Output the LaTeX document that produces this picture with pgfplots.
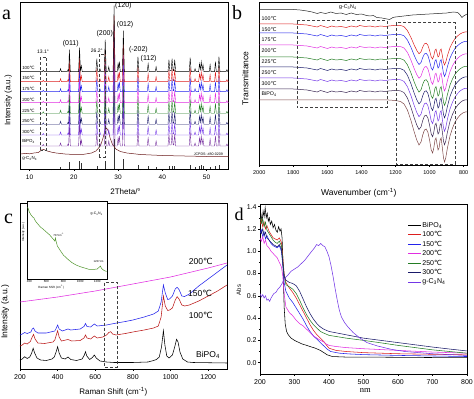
\documentclass[border=0pt]{standalone}
\usepackage{fontspec}
\setmainfont{Liberation Sans}
\newfontfamily\serifff{Liberation Serif}
\newfontfamily\dv{DejaVu Sans}
\usepackage{pgfplots}
\usepackage{pgfplotstable}
\pgfplotsset{compat=1.18}
\newcommand{\dC}{{\dv ℃}}
\newcommand{\gcn}{g-C\textsubscript{3}N\textsubscript{4}}
\newcommand{\bpo}{BiPO\textsubscript{4}}
\definecolor{cRed}{RGB}{220,30,30}
\definecolor{cBlue}{RGB}{35,35,235}
\definecolor{cMag}{RGB}{225,45,225}
\definecolor{cGreen}{RGB}{35,125,35}
\definecolor{cNavy}{RGB}{25,25,105}
\definecolor{cViolet}{RGB}{115,55,230}
\definecolor{cPurple}{RGB}{120,50,160}
\definecolor{cDark}{RGB}{55,35,80}
\definecolor{cBrown}{RGB}{125,70,70}
\definecolor{cMaroon}{RGB}{105,25,25}
\definecolor{cInset}{RGB}{80,150,45}

\pgfplotsset{
  every axis/.append style={
    scale only axis, axis line style={black, line width=0.5pt},
    tick style={black, line width=0.4pt},
    major tick length=2pt, minor tick length=1.2pt,
    tick align=outside, xtick pos=left, ytick pos=left,
    /pgf/number format/assume math mode=true,
    /pgf/number format/1000 sep={},
  },
}

% XRD template: relative peak heights (px)
\pgfplotstableread{
x h
8 0
12.9 0
13.1 1.5
13.3 0
16.8 0
17.0 3
17.2 0
18.5 0
18.7 2
18.85 0.5
19.0 22
19.22 0
21.08 0
21.3 24
21.5 1
21.7 6
21.9 0
24.98 0
25.2 13
25.42 0
25.7 0
25.9 3
26.1 0
26.88 0
27.1 32
27.32 0
27.7 0
27.9 5
28.1 0
28.88 0
29.1 66
29.32 0
29.8 0
30.0 8
30.15 3
30.3 10
30.5 0
30.98 0
31.2 41
31.42 0
34.28 0
34.5 15
34.72 0
36.58 0
36.8 8
37.02 0
38.4 0
38.6 5
38.8 0
41.28 0
41.5 12
41.7 1
42.0 1
42.2 13
42.45 1
42.6 1
42.8 12
43.02 0
46.08 0
46.3 14
46.52 0
47.2 0
47.4 3
47.6 0
48.2 0
48.4 8
48.6 2
48.8 10
49.0 2
49.2 7
49.4 0
50.6 0
50.8 7
51.0 0
51.8 0
52.0 10
52.2 0
52.6 0
52.8 15
53.02 0
54.4 0
54.6 2
54.8 0
55 0
}\xrd

% FTIR template: d = main BiPO4 band depth, w = g-C3N4 wiggles
\pgfplotstableread{
x d w
2000 0 0
1800 0 0
1760 0 0.5
1720 0 1
1690 0 2
1660 0 3
1640 0 1.5
1620 0 2.5
1600 0 3.5
1575 0 2
1550 0 3
1520 0 2.5
1490 0 3.5
1460 0 2
1430 0 3
1410 0 1.5
1380 0 2.5
1350 0 2
1320 0 3
1290 0 2
1260 0 2.5
1240 0 2
1200 0.5 1
1170 1.5 0.5
1150 4 0
1130 10 0
1110 20 0
1090 32 0
1075 40 0
1062 45 0
1050 42 0
1040 35 0
1030 30 0
1020 29 0
1010 32 0
1000 40 0
990 50 0
982 53 0
975 48 0
968 40 0
962 38 0
956 44 0
950 50 0
944 48 0
938 40 0
932 38 0
926 46 0
918 58 0
912 62 0
905 58 0
895 48 0
880 36 0
865 28 0
850 22 0
835 18 0
820 15 0
805 13 0
790 12 0
780 12 0
}\ftir

\begin{document}
\begin{tikzpicture}
\path[use as bounding box] (0pt,0pt) rectangle (474pt,399pt);

%================ panel a ================
\begin{axis}[at={(20.7pt,230pt)}, anchor=south west, width=208pt, height=167pt,
  xmin=8, xmax=55, ymin=0, ymax=167, ytick=\empty,
  xtick={10,20,...,50}, minor x tick num=1,
  tick label style={font=\fontsize{6.5}{7}\selectfont},
  xlabel={2Theta/°}, ylabel={Intensity (a.u.)},
  xlabel style={font=\fontsize{8}{9}\selectfont, at={(axis description cs:0.504,-0.138)}, anchor=center},
  ylabel style={font=\fontsize{8}{9}\selectfont, at={(axis description cs:-0.06,0.413)}, anchor=center},
  every axis plot/.append style={line width=0.4pt}]
\addplot[ycomb, black!80, line width=0.5pt, mark=none] coordinates {
 (17.0,1.5) (19.0,7.3) (21.3,8.3) (21.7,6) (25.2,3) (27.1,8.3) (29.1,30) (31.2,9.7)
 (34.5,4) (36.8,3) (38.6,2.3) (41.5,3) (42.2,3) (42.8,3) (46.3,4) (47.4,2) (48.4,3)
 (48.8,3.7) (49.2,3) (50.8,2.3) (52.0,3) (52.8,3.7)};
\addplot[cMaroon, line width=0.5pt] coordinates {
 (8,15) (9,15.6) (10,15.2) (11,16) (12,16.5) (12.7,19) (13.2,19.5) (14,18) (15,16.8)
 (16,16) (18,15) (20,14.5) (22,14.5) (24,16) (25,18) (26,23) (26.6,31) (27.0,38)
 (27.4,41) (27.8,38) (28.2,31) (28.7,25) (29.5,20) (30.5,17.5) (32,16) (35,14.5)
 (40,13.5) (45,13) (50,12.5) (55,12.3)};
\addplot[cPurple] table[x=x, y expr=\thisrow{h}+23] {\xrd};
\addplot[cViolet] table[x=x, y expr=\thisrow{h}+34] {\xrd};
\addplot[cNavy] table[x=x, y expr=\thisrow{h}+44.7] {\xrd};
\addplot[cGreen] table[x=x, y expr=\thisrow{h}+55.7] {\xrd};
\addplot[cMag] table[x=x, y expr=\thisrow{h}+66.3] {\xrd};
\addplot[cBlue] table[x=x, y expr=\thisrow{h}+77.3] {\xrd};
\addplot[cRed] table[x=x, y expr=\thisrow{h}+87.3] {\xrd};
\addplot[black] table[x=x, y expr=\thisrow{h}+97.3] {\xrd};
\draw[densely dashed, black!75, line width=0.4pt] (axis cs:12.5,19) rectangle (axis cs:13.8,112);
\draw[densely dashed, black!75, line width=0.4pt] (axis cs:25.8,12) rectangle (axis cs:27.0,115);
\begin{scope}[every node/.style={font=\fontsize{4.4}{5}\selectfont, anchor=west, inner sep=0.5pt}]
\node at (axis cs:8.2,100.7) {100\dC};
\node at (axis cs:8.2,90.7) {150\dC};
\node at (axis cs:8.2,79.7) {175\dC};
\node at (axis cs:8.2,69) {200\dC};
\node at (axis cs:8.2,58.3) {225\dC};
\node at (axis cs:8.2,48) {250\dC};
\node at (axis cs:8.2,37.3) {300\dC};
\node at (axis cs:8.2,27.3) {\bpo};
\node at (axis cs:8.2,10.7) {\gcn};
\end{scope}
\node[font=\fontsize{3.6}{4}\selectfont] at (axis cs:50.4,15) {JCPDS: \#80-0209};
\begin{scope}[every node/.style={font=\fontsize{7}{8}\selectfont, inner sep=0.5pt}]
\node at (axis cs:31.2,163.5) {(120)};
\node at (axis cs:31.6,144) {(012)};
\node at (axis cs:27.0,135.7) {(200)};
\node at (axis cs:19.3,125.7) {(011)};
\node at (axis cs:34.6,119) {(-202)};
\node at (axis cs:36.9,110.7) {(112)};
\end{scope}
\node[font=\fontsize{5}{6}\selectfont, inner sep=0.5pt] at (axis cs:13.05,117.3) {13.1°};
\node[font=\fontsize{5}{6}\selectfont, inner sep=0.5pt] at (axis cs:25.2,118) {26.2°};
\end{axis}

%================ panel b ================
\begin{axis}[at={(259.3pt,234pt)}, anchor=south west, width=207.7pt, height=163pt,
  xmin=780, xmax=2000, x dir=reverse, ymin=0, ymax=163, ytick=\empty,
  xtick={800,1000,...,2000}, minor x tick num=1,
  tick label style={font=\fontsize{5.5}{6}\selectfont},
  xlabel={Wavenumber (cm\textsuperscript{-1})}, ylabel={Transmittance},
  xlabel style={font=\fontsize{8.5}{9}\selectfont, at={(axis description cs:0.479,-0.17)}, anchor=center},
  ylabel style={font=\fontsize{8.5}{9}\selectfont, at={(axis description cs:-0.067,0.532)}, anchor=center},
  every axis plot/.append style={line width=0.5pt}]
\addplot[black!85] coordinates {
 (2000,155.7) (1900,155.7) (1800,155.5) (1760,155) (1720,154) (1690,153) (1660,151.5)
 (1640,152.5) (1610,151.5) (1580,153) (1550,151.5) (1520,152) (1490,150.5) (1460,152)
 (1430,150.5) (1400,151) (1370,149.5) (1350,149) (1330,149.5) (1310,147.5) (1280,147)
 (1250,146) (1235,145.5) (1215,147.5) (1200,148) (1150,149) (1100,150) (1000,151)
 (900,152) (860,153) (835,152.5) (820,150) (810,147.5) (800,149) (790,150) (780,151)};
\addplot[cBrown] table[x=x, y expr=65-\thisrow{d}] {\ftir};
\addplot[cDark] table[x=x, y expr=76-0.9*\thisrow{d}-\thisrow{w}] {\ftir};
\addplot[cViolet] table[x=x, y expr=87-0.86*\thisrow{d}-\thisrow{w}] {\ftir};
\addplot[cNavy] table[x=x, y expr=98-0.82*\thisrow{d}-\thisrow{w}] {\ftir};
\addplot[cGreen] table[x=x, y expr=108-0.78*\thisrow{d}-\thisrow{w}] {\ftir};
\addplot[cMag] table[x=x, y expr=120-0.74*\thisrow{d}-\thisrow{w}] {\ftir};
\addplot[cBlue] table[x=x, y expr=132-0.7*\thisrow{d}-\thisrow{w}] {\ftir};
\addplot[cRed] table[x=x, y expr=141-0.66*\thisrow{d}-\thisrow{w}] {\ftir};
\draw[densely dashed, black!75, line width=0.45pt] (axis cs:1780,144.3) rectangle (axis cs:1250,57.7);
\draw[densely dashed, black!75, line width=0.45pt] (axis cs:1195,142.3) rectangle (axis cs:850,1);
\begin{scope}[every node/.style={font=\fontsize{5.3}{6}\selectfont, anchor=west, inner sep=0.5pt}]
\node at (axis cs:1990,146) {100\dC};
\node at (axis cs:1990,135.7) {150\dC};
\node at (axis cs:1990,125.7) {175\dC};
\node at (axis cs:1990,114.3) {200\dC};
\node at (axis cs:1990,103.3) {225\dC};
\node at (axis cs:1990,92.3) {250\dC};
\node at (axis cs:1990,81.7) {300\dC};
\node at (axis cs:1990,70.7) {\bpo};
\end{scope}
\node[font=\fontsize{5.3}{6}\selectfont, inner sep=0.5pt] at (axis cs:1480,157.5) {\gcn};
\end{axis}

%================ panel c ================
\begin{axis}[at={(20pt,30pt)}, anchor=south west, width=207pt, height=166pt,
  xmin=200, xmax=1300, ymin=0, ymax=166, ytick=\empty,
  xtick={200,400,...,1200}, minor x tick num=1,
  tick label style={font=\fontsize{7}{8}\selectfont},
  xlabel={Raman Shift (cm\textsuperscript{-1})}, ylabel={Intensity (a.u.)},
  xlabel style={font=\fontsize{8}{9}\selectfont, at={(axis description cs:0.451,-0.137)}, anchor=center},
  ylabel style={font=\fontsize{8.5}{9}\selectfont, at={(axis description cs:-0.072,0.345)}, anchor=center},
  every axis plot/.append style={line width=0.55pt}]
\addplot[black] coordinates {
 (200,9) (212,10) (225,12.3) (238,10.5) (252,12) (262,16) (270,20.7) (278,16) (290,11)
 (310,9) (340,8.5) (370,10) (382,12) (392,17) (400,22.3) (408,16) (420,11) (440,10)
 (455,12) (470,9.5) (500,8.5) (530,10) (542,14) (548,17.3) (555,13) (570,9.5) (585,11.5)
 (595,14) (605,11) (625,8) (660,7) (700,6.5) (800,6.5) (880,7) (910,8.5) (925,9.5)
 (940,12) (952,22) (962,38.3) (970,24) (980,13) (992,11) (1010,14) (1022,22) (1032,29.7)
 (1040,27) (1050,17) (1065,10) (1090,7) (1120,6.5) (1300,6)};
\addplot[cRed!85!black] coordinates {
 (200,23) (212,24) (225,26) (238,25) (255,27.5) (265,32) (272,34.7) (280,30) (295,26)
 (330,25.5) (375,27) (385,29) (393,34) (400,38.3) (408,32) (420,28) (455,29.5) (475,28)
 (520,28.5) (540,31) (548,34) (556,31) (575,30) (595,33) (610,31) (640,32) (660,34)
 (672,36.5) (682,37.3) (692,35) (710,34) (760,35.5) (800,37) (860,39) (910,41) (935,43)
 (950,52) (962,73) (972,63) (985,58.5) (995,59) (1010,61) (1025,69) (1035,72.3)
 (1045,70) (1060,64) (1075,63) (1100,64) (1150,68) (1200,73) (1250,78) (1300,84)};
\addplot[cBlue] coordinates {
 (200,34) (212,35) (225,36.5) (238,35.5) (258,37) (265,40) (272,41) (280,38) (295,36)
 (340,36) (385,38) (393,41) (400,44) (408,40) (425,38) (455,40) (470,39) (520,40)
 (540,42.5) (548,45.5) (556,42.5) (575,42) (595,45) (610,43) (660,44) (700,45.5)
 (760,47.5) (800,49) (860,52) (910,55) (935,58) (950,67) (962,84) (972,76) (985,69.5)
 (995,70) (1010,73) (1025,80) (1035,81.7) (1045,79.5) (1060,73) (1075,72.5) (1100,75)
 (1150,83) (1200,90) (1250,97) (1300,104)};
\addplot[cMag] coordinates {
 (200,67) (400,72) (600,78) (800,85) (1000,92) (1200,101) (1300,106)};
\draw[densely dashed, black!75, line width=0.45pt] (axis cs:650,86.3) rectangle (axis cs:716,1.7);
\begin{scope}[every node/.style={font=\fontsize{8.5}{9}\selectfont, inner sep=0.5pt}]
\node at (axis cs:1161,107.3) {200\dC};
\node at (axis cs:1157,76) {150\dC};
\node at (axis cs:1161,54) {100\dC};
\node at (axis cs:1199,14) {\bpo};
\end{scope}
\end{axis}

% inset
\begin{axis}[at={(27.3pt,120pt)}, anchor=south west, width=80pt, height=78pt,
  axis background/.style={fill=white},
  xmin=376, xmax=1318, ymin=0, ymax=78, ytick=\empty,
  xtick={400,600,...,1200}, major tick length=1pt, minor tick length=0.6pt,
  axis line style={line width=0.4pt},
  tick label style={font=\fontsize{3}{3.5}\selectfont, inner sep=0.6pt},
  xlabel={Raman Shift (cm\textsuperscript{-1})}, ylabel={Intensity (a.u.)},
  xlabel style={font=\fontsize{3}{3.5}\selectfont, at={(axis description cs:0.3,-0.1)}, anchor=center},
  ylabel style={font=\fontsize{3}{3.5}\selectfont, at={(axis description cs:-0.05,0.6)}, anchor=center}]
\addplot[cInset, line width=0.5pt] coordinates {
 (380,72) (400,67) (420,64) (440,62) (455,61) (465,59) (480,57) (500,55) (530,52)
 (560,50) (600,47) (640,44) (680,40) (700,38) (707,41) (714,38) (730,33) (760,29)
 (800,24) (850,20) (900,16.5) (950,14) (1000,12.3) (1050,11) (1100,9.7) (1150,9.5)
 (1200,10) (1225,12) (1237,13) (1250,10.5) (1280,8.5) (1310,7.5)};
\node[font=\fontsize{3.5}{4}\selectfont, inner sep=0.3pt] at (axis cs:1193,65.7) {\gcn};
\node[font=\fontsize{2.8}{3}\selectfont, inner sep=0.3pt] at (axis cs:745,44) {707cm\textsuperscript{-1}};
\node[font=\fontsize{2.8}{3}\selectfont, inner sep=0.3pt] at (axis cs:1215,17.5) {1237cm};
\end{axis}

%================ panel d ================
\begin{axis}[at={(260pt,25.2pt)}, anchor=south west, width=207pt, height=169.4pt,
  xmin=200, xmax=800, ymin=-0.1, ymax=1.42,
  xtick={200,300,...,800}, minor x tick num=1,
  ytick={0,0.2,...,1.4}, minor y tick num=1,
  yticklabel style={inner sep=1.2pt, /pgf/number format/.cd, fixed, fixed zerofill, precision=1},
  tick label style={font=\fontsize{7}{8}\selectfont},
  xlabel={nm}, ylabel={Abs},
  xlabel style={font=\serifff\fontsize{8.5}{9}\selectfont, at={(axis description cs:0.509,-0.096)}, anchor=center},
  ylabel style={font=\fontsize{6}{7}\selectfont, at={(axis description cs:-0.103,0.495)}, anchor=center},
  legend style={at={(0.70,0.914)}, anchor=north west, draw=none, fill=none,
    font=\fontsize{7}{8}\selectfont, row sep=1.2pt, nodes={inner sep=0.8pt}},
  legend cell align=left,
  legend image code/.code={\draw[#1] (0pt,0pt) -- (13pt,0pt);},
  every axis plot/.append style={line width=0.55pt}]
\addplot[black] coordinates {
 (200,1.28) (203,1.33) (206,1.26) (209,1.36) (212,1.31) (215,1.39) (218,1.30) (221,1.34)
 (224,1.27) (227,1.30) (230,1.24) (234,1.27) (238,1.21) (242,1.24) (246,1.19) (250,1.17)
 (254,1.22) (258,1.18) (261,1.20) (264,1.12) (266,0.95) (268,0.72) (270,0.50) (273,0.35)
 (277,0.28) (282,0.25) (290,0.22) (300,0.20) (320,0.17) (340,0.15) (360,0.13) (375,0.11)
 (385,0.09) (395,0.07) (410,0.055) (450,0.05) (500,0.05) (600,0.048) (700,0.046) (800,0.045)};
\addlegendentry{\bpo}
\addplot[cRed] coordinates {
 (200,1.24) (204,1.28) (208,1.22) (212,1.26) (216,1.20) (220,1.23) (226,1.18) (232,1.15)
 (238,1.12) (244,1.11) (250,1.10) (256,1.12) (262,1.08) (266,0.95) (270,0.80) (275,0.72)
 (285,0.67) (295,0.63) (305,0.58) (315,0.52) (325,0.46) (335,0.40) (345,0.34) (355,0.29)
 (365,0.25) (375,0.22) (385,0.19) (392,0.16) (400,0.13) (420,0.11) (450,0.10) (500,0.09)
 (600,0.08) (700,0.075) (800,0.07)};
\addlegendentry{100\dC}
\addplot[cBlue] coordinates {
 (200,1.16) (204,1.19) (208,1.13) (212,1.17) (216,1.11) (220,1.14) (226,1.10) (232,1.07)
 (238,1.05) (244,1.04) (250,1.03) (256,1.05) (262,1.00) (266,0.88) (270,0.72) (275,0.64)
 (285,0.58) (295,0.54) (305,0.49) (315,0.44) (325,0.39) (335,0.33) (345,0.28) (355,0.24)
 (365,0.21) (375,0.18) (385,0.15) (395,0.12) (405,0.10) (430,0.085) (460,0.078) (500,0.072)
 (600,0.065) (700,0.06) (800,0.055)};
\addlegendentry{150\dC}
\addplot[cMag] coordinates {
 (200,1.12) (204,1.09) (208,1.13) (212,1.07) (216,1.10) (220,1.05) (226,1.03) (232,1.00)
 (238,0.98) (244,0.96) (250,0.94) (256,0.90) (262,0.86) (266,0.78) (270,0.62) (275,0.50)
 (285,0.45) (295,0.42) (305,0.38) (315,0.35) (325,0.33) (335,0.30) (345,0.27) (355,0.24)
 (365,0.22) (375,0.20) (385,0.185) (390,0.17) (400,0.155) (420,0.145) (450,0.135) (500,0.125)
 (600,0.11) (700,0.095) (800,0.085)};
\addlegendentry{200\dC}
\addplot[cGreen] coordinates {
 (200,1.30) (204,1.25) (208,1.29) (212,1.22) (216,1.26) (220,1.19) (226,1.16) (232,1.13)
 (238,1.10) (244,1.08) (250,1.07) (256,1.09) (262,1.05) (266,0.92) (270,0.78) (275,0.70)
 (285,0.68) (295,0.66) (305,0.62) (315,0.56) (325,0.49) (335,0.43) (345,0.38) (355,0.34)
 (365,0.31) (375,0.28) (385,0.265) (400,0.245) (450,0.22) (500,0.2) (550,0.178) (600,0.155)
 (650,0.135) (700,0.115) (750,0.1) (800,0.085)};
\addlegendentry{250\dC}
\addplot[cNavy] coordinates {
 (200,1.20) (204,1.16) (208,1.20) (212,1.14) (216,1.17) (220,1.12) (226,1.10) (232,1.08)
 (238,1.06) (244,1.05) (250,1.04) (256,1.06) (262,1.02) (266,0.90) (270,0.78) (275,0.74)
 (285,0.72) (295,0.71) (305,0.69) (315,0.64) (325,0.57) (335,0.50) (345,0.44) (355,0.39)
 (365,0.35) (375,0.32) (385,0.30) (400,0.28) (450,0.25) (500,0.22) (550,0.20) (600,0.18)
 (650,0.16) (700,0.14) (750,0.122) (800,0.105)};
\addlegendentry{300\dC}
\addplot[cViolet] coordinates {
 (200,0.62) (204,0.59) (208,0.61) (212,0.58) (216,0.60) (220,0.56) (224,0.57) (228,0.55)
 (232,0.58) (236,0.60) (240,0.62) (246,0.63) (252,0.66) (258,0.68) (264,0.71) (270,0.75)
 (276,0.77) (282,0.79) (290,0.82) (300,0.84) (310,0.86) (320,0.89) (330,0.92) (340,0.96)
 (350,1.00) (358,1.03) (364,1.06) (370,1.05) (376,1.07) (382,1.05) (388,1.04) (394,1.00)
 (400,0.95) (406,0.87) (412,0.77) (418,0.66) (424,0.56) (430,0.47) (436,0.41) (445,0.36)
 (455,0.32) (470,0.27) (490,0.22) (510,0.18) (540,0.15) (580,0.12) (620,0.10) (700,0.08)
 (800,0.065)};
\addlegendentry{\gcn}
\end{axis}

% panel letters
\node[font=\serifff\fontsize{20}{20}\selectfont, inner sep=0pt] at (6.5pt,384pt) {a};
\node[font=\serifff\fontsize{20}{20}\selectfont, inner sep=0pt] at (237pt,386.5pt) {b};
\node[font=\serifff\fontsize{20}{20}\selectfont, inner sep=0pt] at (8.5pt,180pt) {c};
\node[font=\serifff\fontsize{18}{18}\selectfont, inner sep=0pt] at (239pt,185pt) {d};
\end{tikzpicture}
\end{document}
